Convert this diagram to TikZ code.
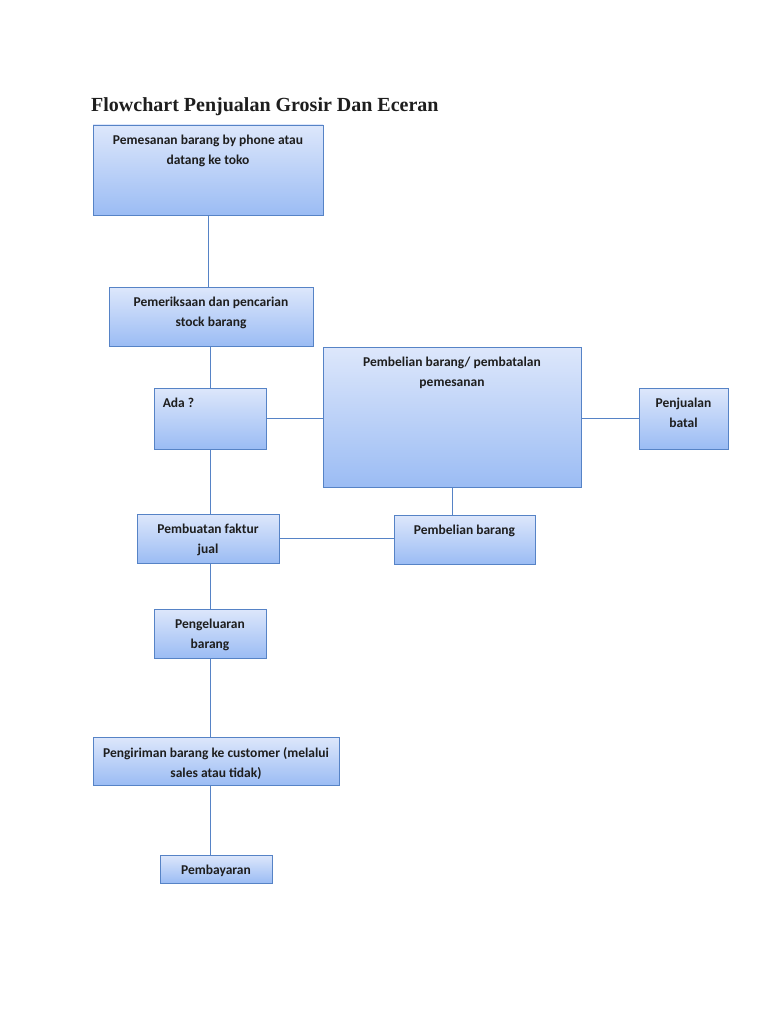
\documentclass[tikz,border=0pt]{standalone}
\usepackage{fontspec}
\setmainfont{Carlito}
\newfontfamily\titlefont{Liberation Serif}
\definecolor{boxline}{HTML}{5683C6}
\definecolor{boxtop}{HTML}{DDE7FB}
\definecolor{boxbot}{HTML}{9BBCF4}
\definecolor{inktext}{HTML}{1E1E1E}
\tikzset{
  box/.style={draw=boxline, top color=boxtop, bottom color=boxbot, line width=0.8pt, inner sep=0pt},
  txt/.style={anchor=north, yshift=-10.5pt, inner sep=0pt, align=center, text=inktext,
    font=\fontsize{13.5}{20}\selectfont\bfseries},
  link/.style={draw=boxline, line width=0.9pt}
}
\begin{document}
\begin{tikzpicture}[x=1pt, y=-1pt]
    \fill[white] (0,0) rectangle (768,1024);
    \useasboundingbox (0,0) rectangle (768,1024);
    \node[anchor=base west, inner sep=0pt, text=inktext, font=\titlefont\fontsize{20}{24}\selectfont\bfseries]
        (title) at (91,112) {Flowchart Penjualan Grosir Dan Eceran};
    \node[box, minimum width=230, minimum height=90] (order) at (208,170)
        [label={[txt]north:Pemesanan barang by phone atau\\datang ke toko}] {};
    \node[box, minimum width=204, minimum height=59] (check) at (211,316.5)
        [label={[txt]north:Pemeriksaan dan pencarian\\stock barang}] {};
    \node[box, minimum width=112, minimum height=61] (ada) at (210,418.5)
        [label={[txt, anchor=north west, xshift=9pt]north west:Ada ?}] {};
    \node[box, minimum width=258, minimum height=140] (cancel) at (452,417)
        [label={[txt]north:Pembelian barang/ pembatalan\\pemesanan}] {};
    \node[box, minimum width=89, minimum height=61] (batal) at (683.5,418.5)
        [label={[txt]north:Penjualan\\batal}] {};
    \node[box, minimum width=142, minimum height=49] (faktur) at (208,538.5)
        [label={[txt]north:Pembuatan faktur\\jual}] {};
    \node[box, minimum width=141, minimum height=49] (buy) at (464.5,539.5)
        [label={[txt]north:Pembelian barang}] {};
    \node[box, minimum width=112, minimum height=49] (keluar) at (210,633.5)
        [label={[txt]north:Pengeluaran\\barang}] {};
    \node[box, minimum width=246, minimum height=48] (kirim) at (216,761)
        [label={[txt]north:Pengiriman barang ke customer (melalui\\sales atau tidak)}] {};
    \node[box, minimum width=112, minimum height=28] (bayar) at (216,869)
        [label={[txt]north:Pembayaran}] {};
    % connectors
    \draw[link] (order.south) -- (order.south |- check.north);
    \draw[link] (ada.north |- check.south) -- (ada.north);
    \draw[link] (ada.east) -- (ada.east -| cancel.west);
    \draw[link] (cancel.east |- batal.west) -- (batal.west);
    \draw[link] (cancel.south) -- (cancel.south |- buy.north);
    \draw[link] (ada.south) -- (ada.south |- faktur.north);
    \draw[link] (faktur.east) -- (faktur.east -| buy.west);
    \draw[link] (keluar.north |- faktur.south) -- (keluar.north);
    \draw[link] (keluar.south) -- (keluar.south |- kirim.north);
    \draw[link] (keluar.south |- kirim.south) -- (keluar.south |- bayar.north);
\end{tikzpicture}
\end{document}
